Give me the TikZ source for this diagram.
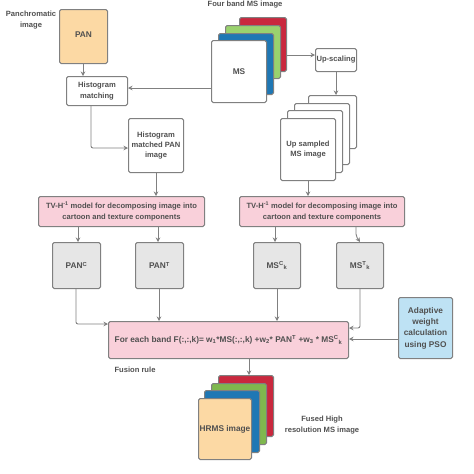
\documentclass[tikz,border=0pt]{standalone}
\usepackage{fontspec}
\setmainfont{Liberation Sans}
\usetikzlibrary{arrows.meta}
\definecolor{ln}{HTML}{808080}
\definecolor{txt}{HTML}{505050}
\definecolor{orng}{HTML}{FCD9A4}
\definecolor{pnk}{HTML}{F9D0DA}
\definecolor{gry}{HTML}{E6E6E6}
\definecolor{lblue}{HTML}{BEE2F4}
\definecolor{rd}{HTML}{C9283E}
\definecolor{grn}{HTML}{9AD26E}
\definecolor{grnb}{HTML}{7FB84E}
\definecolor{blu}{HTML}{1F77B4}
\tikzset{
  bx/.style={draw=ln,line width=1pt,rounded corners=1.6pt,align=center,inner sep=0pt,
    text=txt,font=\bfseries\fontsize{7.6}{10.4}\selectfont},
  big/.style={font=\bfseries\fontsize{8.3}{11.4}\selectfont},
  lbl/.style={align=center,inner sep=0pt,text=txt,font=\bfseries\fontsize{7.6}{10.4}\selectfont},
  con/.style={draw=ln,line width=.9pt,rounded corners=2pt,-{Stealth[length=4.5pt,width=4.5pt]}}
}
% name, x1, y1, x2, y2, style, text
\newcommand{\bxn}[7]{%
  \pgfmathsetmacro{\bxw}{#4-#2-1}\pgfmathsetmacro{\bxh}{#5-#3-1}%
  \node[bx,#6,minimum width=\bxw pt,minimum height=\bxh pt] (#1) at ({(#2+#4)/2},{(#3+#5)/2}) {#7};}
\begin{document}
\begin{tikzpicture}[x=1pt,y=-1pt]
\useasboundingbox (0,0) rectangle (474,474);
% MS stack
\bxn{msr}{239}{17}{287}{72}{fill=rd}{}
\bxn{msg}{225}{25}{281}{79}{fill=grn}{}
\bxn{msb}{218}{33}{274}{95}{fill=blu}{}
\bxn{ms}{211}{40}{267}{103}{fill=white,big}{MS}
% PAN column
\bxn{pan}{59}{9}{108}{64}{fill=orng,big}{\raisebox{3pt}{PAN}}
\bxn{hist}{66}{76}{128}{106}{fill=white}{Histogram\\matching}
\bxn{hmp}{128}{118}{184}{173}{fill=white}{Histogram\\matched PAN\\image}
\bxn{tvl}{38}{196}{205}{227}{fill=pnk}{TV-H\textsuperscript{-1} model for decomposing image into\\cartoon and texture components}
\bxn{panc}{52}{242}{101}{289}{fill=gry,big}{PAN\textsuperscript{C}}
\bxn{pant}{135}{242}{184}{289}{fill=gry,big}{PAN\textsuperscript{T}}
% right column
\bxn{ups}{315}{48}{357}{72}{fill=white}{Up-scaling}
\bxn{us4}{308}{95}{357}{149}{fill=white}{}
\bxn{us3}{294}{103}{350}{165}{fill=white}{}
\bxn{us2}{287}{110}{343}{173}{fill=white}{}
\bxn{us1}{280}{118}{336}{181}{fill=white}{Up sampled\\MS image}
\bxn{tvr}{239}{196}{405}{227}{fill=pnk}{TV-H\textsuperscript{-1} model for decomposing image into\\cartoon and texture components}
\bxn{msc}{253}{242}{301}{289}{fill=gry,big}{MS\textsuperscript{C}\textsubscript{k}}
\bxn{mst}{336}{242}{384}{289}{fill=gry,big}{MS\textsuperscript{T}\textsubscript{k}}
% fusion
\bxn{fus}{108}{321}{349}{359}{fill=pnk,big}{For each band F(:,:,k)= w\textsubscript{1}*MS(:,:,k) +w\textsubscript{2}* PAN\textsuperscript{T} +w\textsubscript{3} * MS\textsuperscript{C}\textsubscript{k}}
\bxn{pso}{398}{297}{453}{359}{fill=lblue,big}{Adaptive\\weight\\calculation\\using PSO}
% HRMS stack
\bxn{hr}{218}{375}{274}{437}{fill=rd}{}
\bxn{hg}{211}{383}{267}{445}{fill=grnb}{}
\bxn{hb}{204}{390}{260}{453}{fill=blu}{}
\bxn{hrms}{198}{398}{252}{460}{fill=orng,big}{HRMS image}
% labels
\node[lbl] (l1) at (31,20) {Panchromatic\\image};
\node[lbl] (l2) at (245,5) {Four band MS image};
\node[lbl] (l3) at (135,370) {Fusion rule};
\node[lbl] (l4) at (322,425) {Fused High\\resolution MS image};
% guides for connector columns
\coordinate (xa) at (83,0);
\coordinate (xb) at (91,148);
\coordinate (xc) at (156,0);
\coordinate (xd) at (78,0);
\coordinate (xe) at (158,0);
\coordinate (xf) at (336,55);
\coordinate (xg) at (308,0);
\coordinate (xh) at (275,0);
\coordinate (xi) at (356,0);
\coordinate (xj) at (360,0);
\coordinate (xk) at (76,324);
\coordinate (xl) at (159,0);
\coordinate (xm) at (277,0);
\coordinate (xn) at (360,328);
\coordinate (xo) at (249,0);
\coordinate (yp) at (0,88);
\coordinate (yq) at (0,339);
% connectors
\draw[con] (pan.south -| xa) -- (hist.north -| xa);
\draw[con] (ms.west |- yp) -- (hist.east |- yp);
\draw[con] (hist.south -| xb) -- (xb) -- (hmp.west |- xb);
\draw[con] (hmp.south -| xc) -- (tvl.north -| xc);
\draw[con] (tvl.south -| xd) -- (panc.north -| xd);
\draw[con] (tvl.south -| xe) -- (pant.north -| xe);
\draw[con] (msr.east |- xf) -- (ups.west |- xf);
\draw[con] (ups.south -| xf) -- (us4.north -| xf);
\draw[con] (us1.south -| xg) -- (tvr.north -| xg);
\draw[con] (tvr.south -| xh) -- (msc.north -| xh);
\draw[con] (tvr.south -| xi) -- ++(0,9) -- (mst.north -| xj);
\draw[con] (panc.south -| xk) -- (xk) -- (fus.west |- xk);
\draw[con] (pant.south -| xl) -- (fus.north -| xl);
\draw[con] (msc.south -| xm) -- (fus.north -| xm);
\draw[con] (mst.south -| xn) -- (xn) -- (fus.east |- xn);
\draw[con] (pso.west |- yq) -- (fus.east |- yq);
\draw[con] (fus.south -| xo) -- (hr.north -| xo);
\end{tikzpicture}
\end{document}
